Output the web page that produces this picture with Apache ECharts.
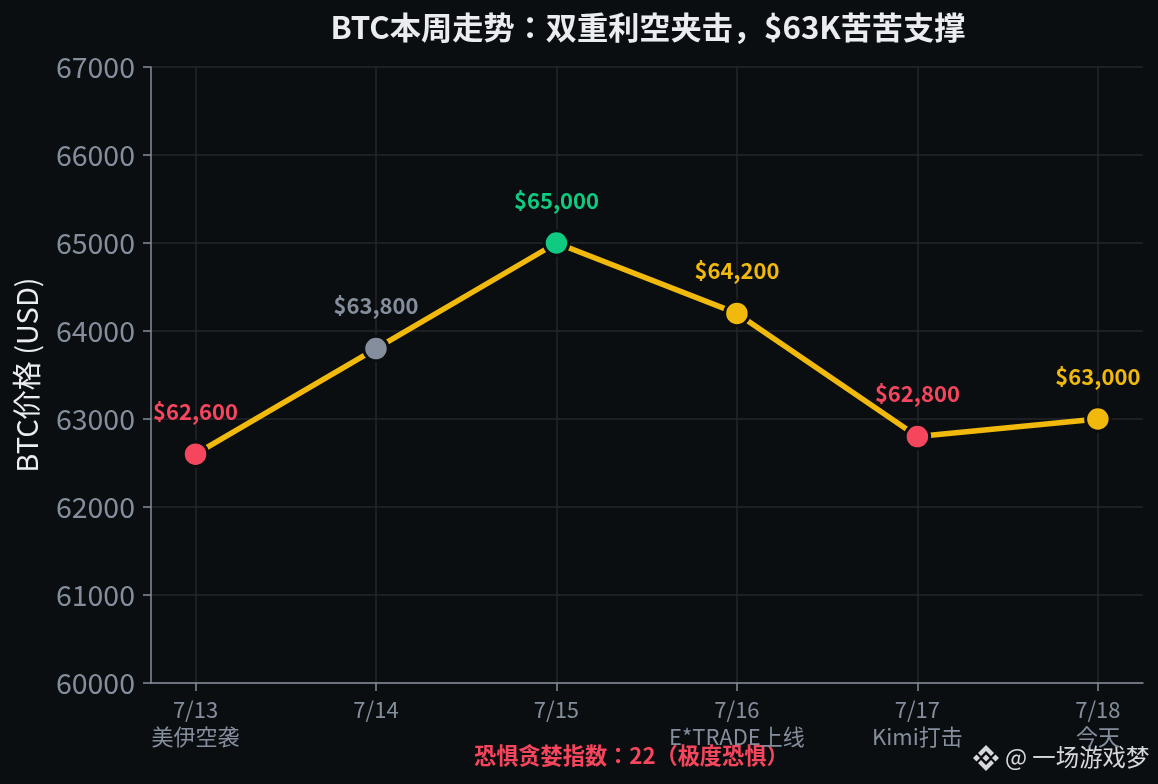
<!DOCTYPE html>
<html><head><meta charset="utf-8">
<style>html,body{margin:0;padding:0;background:#0b0e11}#c{width:1158px;height:784px}</style>
<script src="https://cdn.jsdelivr.net/npm/echarts@6/dist/echarts.min.js"></script></head>
<body><div id="c"></div>
<script>
const categories=['7/13\n美伊空袭','7/14','7/15','7/16\nE*TRADE上线','7/17\nKimi打击','7/18\n今天'];
const prices=[62600,63800,65000,64200,62800,63000];
const priceLabels=['$62,600','$63,800','$65,000','$64,200','$62,800','$63,000'];
const pointColors=['#f6465d','#848e9c','#0ecb81','#f0b90b','#f6465d','#f0b90b'];
const xPositions=[0,1,2,3,4,5];
const F='"Noto Sans CJK JP","Noto Sans",sans-serif';
const chart=echarts.init(document.getElementById('c'),null,{renderer:'canvas'});
const logoFill='#d6d8db';
chart.setOption({
 backgroundColor:'#0b0e11',animation:false,
 title:{text:'BTC本周走势：双重利空夹击，$63K苦苦支撑',left:643,top:7,textAlign:'center',textStyle:{color:'#eaecef',fontSize:31.2,fontWeight:'bold',fontFamily:F}},
 grid:{left:151,right:15,top:67,bottom:101},
 xAxis:{type:'value',min:-0.2466,max:5.25,
  axisLine:{onZero:false,lineStyle:{color:'#848e9c',width:1.5}},
  axisTick:{customValues:xPositions,length:8,lineStyle:{color:'#848e9c',width:1.5}},
  axisLabel:{customValues:xPositions,formatter:v=>categories[v],color:'#848e9c',fontSize:22,fontFamily:F,lineHeight:27,margin:13},
  splitLine:{show:true,lineStyle:{color:'#23272d',width:1.5}}},
 yAxis:{type:'value',min:60000,max:67000,interval:1000,
  name:'BTC价格 (USD)',nameLocation:'middle',nameGap:110,nameTextStyle:{color:'#eaecef',fontSize:29,fontFamily:F},
  axisLine:{show:true,onZero:false,lineStyle:{color:'#848e9c',width:1.5}},axisTick:{show:true,length:8,lineStyle:{color:'#848e9c',width:1.5}},
  axisLabel:{color:'#848e9c',fontSize:28.5,fontFamily:F,margin:16,formatter:v=>String(v)},
  splitLine:{lineStyle:{color:'#23272d',width:1.5}}},
 series:[{type:'line',
  data:prices.map((v,i)=>({value:[xPositions[i],v],itemStyle:{color:pointColors[i]},
    label:{show:true,position:'top',distance:18,formatter:priceLabels[i],color:pointColors[i],fontSize:22,fontWeight:'bold',fontFamily:F}})),
  symbol:'circle',symbolSize:24.5,lineStyle:{color:'#f0b90b',width:5.5},
  itemStyle:{borderColor:'#0b0e11',borderWidth:3},z:5}],
 graphic:[
  {type:'text',left:474,top:744,style:{text:'恐惧贪婪指数：22（极度恐惧）',fill:'#f6465d',fontSize:22.2,fontWeight:'bold',fontFamily:F}},
  {type:'text',left:1005,top:745,style:{text:'@ 一场游戏梦',fill:'#d6d8db',fontSize:23.4,fontFamily:F}},
  {type:'group',left:973,top:745,children:[
    {type:'polygon',shape:{points:[[13,0],[21,8],[18,11],[13,6],[8,11],[5,8]]},style:{fill:logoFill}},
    {type:'polygon',shape:{points:[[13,26],[21,18],[18,15],[13,20],[8,15],[5,18]]},style:{fill:logoFill}},
    {type:'polygon',shape:{points:[[13,9.5],[16.5,13],[13,16.5],[9.5,13]]},style:{fill:logoFill}},
    {type:'polygon',shape:{points:[[3.5,9.5],[7,13],[3.5,16.5],[0,13]]},style:{fill:logoFill}},
    {type:'polygon',shape:{points:[[22.5,9.5],[26,13],[22.5,16.5],[19,13]]},style:{fill:logoFill}}]}
 ]
});
</script></body></html>
